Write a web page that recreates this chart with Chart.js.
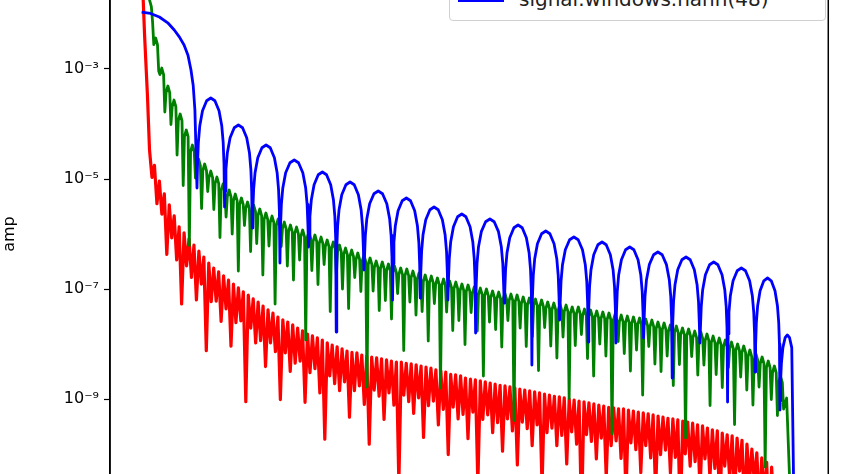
<!DOCTYPE html>
<html><head><meta charset="utf-8">
<script src="https://cdn.jsdelivr.net/npm/chart.js@4"></script>
<style>
html,body{margin:0;padding:0;background:#fff;overflow:hidden;width:844px;height:474px}
#wrap{position:absolute;left:0;top:-60px;width:844px;height:600px}
#leg{position:absolute;left:449px;top:-80px;width:375px;height:99px;border:1.5px solid #d0d0d0;border-radius:4px;background:#fff;font-family:"DejaVu Sans";font-size:20px;color:#222}
#leg .row{position:absolute;left:8px;top:66px;white-space:nowrap}
#leg .ln{display:inline-block;width:46px;height:0;border-top:2.5px solid #0000ff;vertical-align:middle;margin-right:15px}
</style></head><body>
<div id="wrap"><canvas id="c" width="844" height="600"></canvas></div>
<div id="leg"><div class="row"><span class="ln"></span>signal.windows.hann(48)</div></div>
<script>
// values in log10(amp)
const blueMain=[[0,-1.964],[0.0068,-1.99],[0.0136,-2.055],[0.0200,-2.16],[0.0250,-2.291],[0.0290,-2.42],[0.0325,-2.564],[0.0355,-2.75],[0.0378,-3.018],[0.0395,-3.3],[0.0408,-3.745]];
const blueNullF=[.0424,.0635,.0847,.1059,.1278,.1490,.1702,.1921,.2133,.2345,.2557,.2776,.2988,.3200,.3419,.3631,.3843,.4062,.4274,.4486,.4697,.4887];
const blueNullE=[-5.164,-5.509,-5.891,-6.527,-6.236,-7.782,-6.655,-7.20,-7.164,-7.20,-7.80,-7.255,-8.382,-7.564,-7.964,-7.982,-7.891,-8.618,-7.982,-9.055,-8.509,-9.2];
const bluePeakE=[-3.527,-4.018,-4.382,-4.655,-4.873,-5.055,-5.218,-5.345,-5.509,-5.636,-5.727,-5.836,-5.945,-6.055,-6.145,-6.236,-6.327,-6.418,-6.509,-6.618,-6.80,-7.836];
const blueEnd=[0.5,-12];

const greenStart=[[0,-1.2],[0.003,-1.6]];
const greenF0=0.00605, greenStep=0.00469;
const greenPeakE=[-1.745,-2.436,-2.982,-3.309,-3.564,-3.818,-4.109,-4.382,-4.636,-4.727,-4.855,-4.964,-5.091,-5.2,-5.273,-5.345,-5.418,-5.473,-5.545,-5.618,-5.673,-5.727,-5.782,-5.836,-5.873,-5.927,-5.964,-6.018,-6.055,-6.109,-6.145,-6.2,-6.255,-6.291,-6.345,-6.382,-6.436,-6.491,-6.509,-6.545,-6.582,-6.618,-6.636,-6.673,-6.709,-6.745,-6.764,-6.8,-6.818,-6.855,-6.873,-6.909,-6.927,-6.964,-6.982,-7.0,-7.036,-7.055,-7.073,-7.091,-7.109,-7.145,-7.164,-7.182,-7.2,-7.236,-7.255,-7.273,-7.291,-7.327,-7.327,-7.364,-7.382,-7.4,-7.418,-7.436,-7.455,-7.473,-7.491,-7.509,-7.527,-7.545,-7.564,-7.6,-7.618,-7.655,-7.673,-7.709,-7.727,-7.764,-7.782,-7.818,-7.855,-7.891,-7.927,-7.964,-8.0,-8.036,-8.109,-8.182,-8.236,-8.309,-8.4,-8.582,-8.982];
const greenDip=[0.4,0.6,0.8,0.7,1.0,1.3,2.1,0.6,0.9,0.5,0.7,1.1,0.6,0.8,1.4,0.5,0.9,0.7,1.2,0.6,1.6,0.5,0.8,1.0,0.6,2.0,0.7,0.9,0.5,1.3,0.6,0.8,1.1,0.5,0.7,2.4,0.6,0.9,0.7,1.0,0.5,1.5,0.6,0.8,0.7,1.2,0.5,2.0,0.6,0.9,0.7,1.1,0.5,0.8,1.6,0.6,0.7,1.0,0.5,2.3,0.6,0.9,0.7,1.3,0.5,0.8,1.0,0.6,1.7,0.7,0.5,0.9,1.2,0.6,0.8,2.2,0.5,0.7,1.0,0.6,1.4,0.5,0.8,0.9,0.6,1.1,0.7,2.0,0.5,0.8,0.6,1.3,0.7,0.9,0.5,1.5,0.6,0.8,1.0,0.6,2.0,0.7,0.9,0.6,1.8];
const greenEnd=[0.4985,-12];

const redStart=[[0,-1.0],[0.0023,-2.4],[0.0045,-3.5]];
const redF0=0.00605, redStep=0.00378;
const redTopE=[-4.47,-4.75,-5.04,-5.27,-5.47,-5.67,-5.87,-5.98,-6.09,-6.20,-6.31,-6.42,-6.53,-6.62,-6.69,-6.76,-6.84,-6.91,-6.98,-7.05,-7.11,-7.18,-7.24,-7.31,-7.38,-7.44,-7.51,-7.56,-7.60,-7.65,-7.71,-7.76,-7.82,-7.85,-7.89,-7.93,-7.98,-8.02,-8.05,-8.09,-8.13,-8.15,-8.16,-8.20,-8.22,-8.24,-8.25,-8.27,-8.29,-8.31,-8.33,-8.33,-8.35,-8.36,-8.38,-8.40,-8.42,-8.44,-8.47,-8.49,-8.51,-8.55,-8.56,-8.58,-8.62,-8.64,-8.65,-8.67,-8.69,-8.71,-8.73,-8.75,-8.76,-8.78,-8.80,-8.82,-8.84,-8.85,-8.87,-8.89,-8.91,-8.93,-8.95,-8.96,-8.98,-9.00,-9.02,-9.04,-9.05,-9.07,-9.09,-9.11,-9.13,-9.15,-9.16,-9.18,-9.18,-9.20,-9.22,-9.24,-9.25,-9.27,-9.29,-9.31,-9.33,-9.35,-9.36,-9.38,-9.40,-9.42,-9.44,-9.47,-9.49,-9.53,-9.56,-9.58,-9.62,-9.65,-9.67,-9.71,-9.75,-9.82,-9.91,-9.98,-10.07,-10.15,-10.24];
const redDip=[0.5,0.7,0.6,1.1,0.6,0.8,1.4,0.6,0.7,1.0,0.6,1.7,0.7,0.6,0.9,0.6,1.2,0.7,0.6,2.0,0.6,0.8,0.7,1.1,0.6,0.7,1.5,0.6,0.9,0.7,0.6,1.3,0.7,0.6,1.0,1.8,0.6,0.7,0.8,0.6,1.2,0.7,0.6,0.9,1.6,0.6,0.7,1.1,0.6,0.8,2.2,0.6,0.7,0.9,0.6,1.3,0.7,0.6,1.0,0.7,1.5,0.6,0.8,0.7,1.1,0.6,1.9,0.7,0.6,0.9,0.7,1.2,0.6,0.8,1.4,0.6,0.7,1.0,0.6,1.7,0.7,0.6,0.9,0.7,1.2,0.6,0.8,2.1,0.6,0.7,1.0,0.6,1.3,0.7,0.6,0.9,1.6,0.6,0.7,1.1,0.6,0.8,1.4,0.7,0.6,1.0,0.7,1.8,0.6,0.8,0.7,1.2,0.6,0.9,0.7,1.5,0.6,0.8,1.1,0.6,1.3,0.7,0.6,1.0,0.7,1.4,0.8];
const redEnd=[0.487,-11.5];

const yTickExp=[-1,-3,-5,-7,-9,-11];
const sup={'-':'⁻','0':'⁰','1':'¹','2':'²','3':'³','4':'⁴','5':'⁵','6':'⁶','7':'⁷','8':'⁸','9':'⁹'};

const P=(f,e)=>({x:f,y:Math.pow(10,e)});
const blue=blueMain.map(p=>P(p[0],p[1]));
const lobeT=[0.02,0.05,0.1,0.2,0.35,0.5,0.65,0.8,0.9,0.95,0.98];
for(let j=0;j<bluePeakE.length;j++){
  const a=blueNullF[j], b=j+1<blueNullF.length?blueNullF[j+1]:blueEnd[0];
  blue.push(P(a,blueNullE[j]));
  lobeT.forEach(t=>{
    if(j===bluePeakE.length-1 && t>0.8) return;
    blue.push(P(a+(b-a)*t,Math.max(blueNullE[j],bluePeakE[j]+Math.log10(Math.sin(Math.PI*t)))));
  });
}
blue.push(P(blueEnd[0],blueEnd[1]));
const green=greenStart.map(p=>P(p[0],p[1]));
greenPeakE.forEach((e,i)=>{
  const f=greenF0+greenStep*i;
  green.push(P(f,e));
  if(i<greenPeakE.length-1){
    const n=greenPeakE[i+1];
    green.push(P(f+greenStep*0.3,e-0.12));
    green.push(P(f+greenStep*0.5,Math.max(e,n)-greenDip[i]));
    green.push(P(f+greenStep*0.7,n-0.12));
  }
});
green.push(P(greenEnd[0],greenEnd[1]));
const red=redStart.map(p=>P(p[0],p[1]));
redTopE.forEach((e,i)=>{
  const f=redF0+redStep*i;
  red.push(P(f,e));
  red.push(P(f+redStep*0.5,e-redDip[i]));
});
red.push(P(redEnd[0],redEnd[1]));

const frame={id:'frame',afterDraw(c){const a=c.chartArea,x=c.ctx;x.save();x.strokeStyle='#000';x.lineWidth=1.5;x.strokeRect(a.left,a.top,a.right-a.left,a.bottom-a.top);x.restore();}};
const ds=(d,col,w)=>({data:d,borderColor:col,borderWidth:w,pointRadius:0,tension:0,fill:false,borderJoinStyle:'round'});
new Chart(document.getElementById('c'),{
  type:'line',
  data:{datasets:[ds(blue,'#0000ff',2.8),ds(green,'#008000',2.8),ds(red,'#ff0000',3.2)]},
  options:{responsive:false,animation:false,
    layout:{padding:{top:19,right:7,left:0,bottom:0}},
    plugins:{legend:{display:false},tooltip:{enabled:false}},
    scales:{
      x:{type:'linear',min:-0.0242,max:0.5257,grid:{display:false},border:{color:'#000',width:1.5},
         ticks:{color:'#000',font:{family:'DejaVu Sans',size:16}},afterFit(s){s.height=31;}},
      y:{type:'logarithmic',min:1e-11,max:1e-1,
         afterBuildTicks(s){s.ticks=yTickExp.map(e=>({value:Math.pow(10,e)}));},
         grid:{drawOnChartArea:false,tickLength:6,color:'#000',tickWidth:1.2},border:{color:'#000',width:1.5},
         ticks:{color:'#000',padding:5,font:{family:'DejaVu Sans',size:16},autoSkip:false,
           callback:(v)=>{const e=Math.round(Math.log10(v));return '10'+String(e).split('').map(ch=>sup[ch]).join('');}},
         title:{display:true,text:'amp',color:'#000',font:{family:'DejaVu Sans',size:16},padding:{top:0,bottom:4}},
         afterFit(s){s.width=110;}}
    }},
  plugins:[frame]
});
</script></body></html>
